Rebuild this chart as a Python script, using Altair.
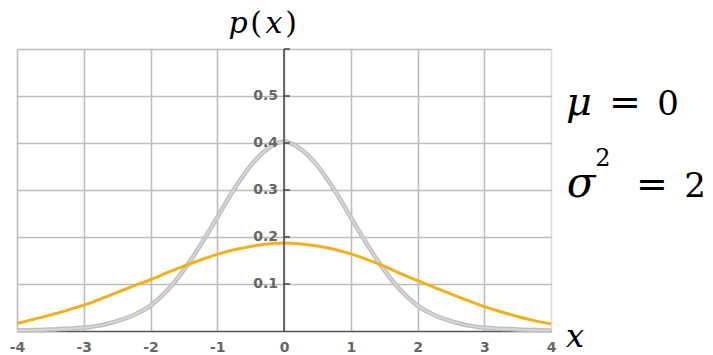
import altair as alt
import pandas as pd

# ---- data ----
x_vals = [-4, -3.75, -3.5, -3.25, -3, -2.75, -2.5, -2.25, -2, -1.75, -1.5, -1.25, -1,
          -0.75, -0.5, -0.25, 0, 0.25, 0.5, 0.75, 1, 1.25, 1.5, 1.75, 2, 2.25, 2.5,
          2.75, 3, 3.25, 3.5, 3.75, 4]
gray_vals = [0.001, 0.002, 0.003, 0.005, 0.007, 0.012, 0.021, 0.034, 0.054, 0.086, 0.13,
             0.183, 0.242, 0.301, 0.352, 0.387, 0.403, 0.387, 0.352, 0.301, 0.242, 0.183,
             0.13, 0.086, 0.054, 0.034, 0.021, 0.012, 0.007, 0.005, 0.003, 0.002, 0.001]
orange_vals = [0.016, 0.025, 0.034, 0.044, 0.055, 0.068, 0.082, 0.096, 0.109, 0.124, 0.138,
               0.151, 0.163, 0.173, 0.180, 0.185, 0.187, 0.185, 0.181, 0.174, 0.164, 0.152,
               0.138, 0.122, 0.107, 0.093, 0.079, 0.065, 0.052, 0.041, 0.031, 0.022, 0.015]
x_ticks = [-4, -3, -2, -1, 0, 1, 2, 3, 4]
y_grid = [0.1, 0.2, 0.3, 0.4, 0.5, 0.6]
y_tick_vals = [0.1, 0.2, 0.3, 0.4, 0.5]
y_tick_labels = ["0.1", "0.2", "0.3", "0.4", "0.5"]

curves = pd.DataFrame({"x": x_vals, "gray": gray_vals, "orange": orange_vals})
ylab = pd.DataFrame({"x": [0] * len(y_tick_vals), "y": y_tick_vals, "t": y_tick_labels})
yticks = pd.DataFrame({"x": [0] * len(y_grid), "x2": [0.09] * len(y_grid), "y": y_grid})
yaxis = pd.DataFrame({"x": [0], "y": [0], "y2": [0.6]})
one = pd.DataFrame({"a": [0]})

xs = alt.Scale(domain=[-4, 4], nice=False, zero=False)
ys = alt.Scale(domain=[0, 0.6], nice=False, zero=False)

base = alt.Chart(curves)

grid_layer = base.mark_line(opacity=0).encode(
    x=alt.X("x:Q", scale=xs, title=None,
            axis=alt.Axis(values=x_ticks, grid=True, ticks=False,
                          labelExpr="'' + datum.value",
                          gridColor=alt.condition("datum.value == 4", alt.value("#dadada"), alt.value("#bcbcbc")),
                          gridWidth=1.6, domainColor="#555555", domainWidth=1.5,
                          labelPadding=9, labelFont="DejaVu Sans", labelFontSize=14,
                          labelFontWeight="bold", labelColor="#666666", labelFlush=False)),
    y=alt.Y("gray:Q", scale=ys, title=None,
            axis=alt.Axis(values=y_grid, grid=True, ticks=False, labels=False, domain=False,
                          gridColor="#bcbcbc", gridWidth=1.6)),
)

gray_outer = base.mark_line(color="#bdbdbd", strokeWidth=4.5, interpolate="monotone").encode(
    x=alt.X("x:Q", scale=xs), y=alt.Y("gray:Q", scale=ys))
gray_inner = base.mark_line(color="#d6d6d6", strokeWidth=2, interpolate="monotone").encode(
    x=alt.X("x:Q", scale=xs), y=alt.Y("gray:Q", scale=ys))
orange_line = base.mark_line(color="#f1b01c", strokeWidth=3, interpolate="monotone").encode(
    x=alt.X("x:Q", scale=xs), y=alt.Y("orange:Q", scale=ys))

axis_line = alt.Chart(yaxis).mark_rule(color="#444444", strokeWidth=1.5).encode(
    x=alt.X("x:Q", scale=xs), y=alt.Y("y:Q", scale=ys), y2="y2:Q")
tick_lines = alt.Chart(yticks).mark_rule(color="#444444", strokeWidth=1.5).encode(
    x=alt.X("x:Q", scale=xs), x2="x2:Q", y=alt.Y("y:Q", scale=ys))
tick_labels = alt.Chart(ylab).mark_text(align="right", baseline="middle", dx=-6,
                                        font="DejaVu Sans", fontSize=14, fontWeight="bold",
                                        color="#666666").encode(
    x=alt.X("x:Q", scale=xs), y=alt.Y("y:Q", scale=ys), text="t:N")


def label(txt, x, y, size, italic=False, align="center"):
    return alt.Chart(one).mark_text(
        font="DejaVu Serif", fontSize=size, fontStyle="italic" if italic else "normal",
        align=align, baseline="alphabetic", color="#000000").encode(
        x=alt.value(x), y=alt.value(y), text=alt.value(txt))


annots = [
    label("p", 221, -16, 30, True),
    label("(", 239, -16, 30),
    label("x", 257, -16, 30, True),
    label(")", 274, -16, 30),
    label("x", 558, 298, 32, True),
    label("μ", 562, 66, 40, True),
    label("=", 608, 66, 38),
    label("0", 651, 66, 34),
    label("σ", 564, 148, 42, True),
    label("2", 586, 117, 24),
    label("=", 635, 148, 38),
    label("2", 678, 148, 34),
]

chart = alt.layer(grid_layer, gray_outer, gray_inner, orange_line, axis_line, tick_lines,
                  tick_labels, *annots).properties(
    width=534, height=282,
    autosize=alt.AutoSizeParams(type="none"),
    padding={"left": 17, "top": 49, "right": 162, "bottom": 24},
    background="white",
).configure_view(stroke=None)

chart.save("out.html", embed_options={"renderer": "svg", "actions": False})
